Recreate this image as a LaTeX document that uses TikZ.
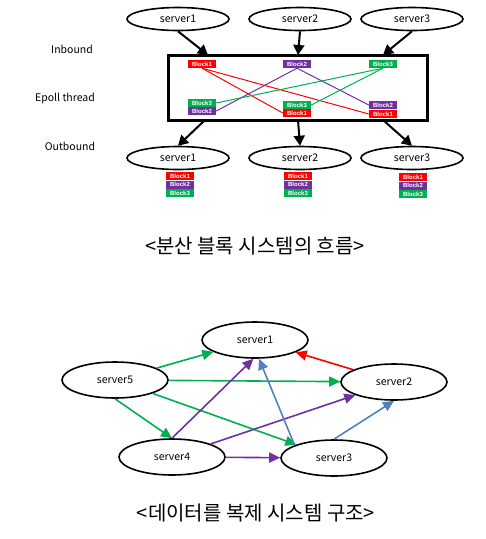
\documentclass[tikz,border=0pt]{standalone}
\usepackage{fontspec}
\setmainfont{Noto Sans CJK KR}
\newfontfamily\blockfont{Liberation Sans}
\usetikzlibrary{shapes.geometric}
\usetikzlibrary{arrows.meta}
\definecolor{bred}{HTML}{FF0000}
\definecolor{bpurple}{HTML}{7030A0}
\definecolor{bgreen}{HTML}{00B050}
\definecolor{bblue}{HTML}{4F81BD}
\tikzset{
  srv/.style={ellipse,draw=black,line width=1.6pt,inner sep=0pt,
    minimum width=102pt,minimum height=23pt,font=\fontsize{10.5}{12}\selectfont},
  srvb/.style={srv,minimum width=106pt,minimum height=36pt},
  blk/.style={fill=#1,text=white,inner sep=0pt,minimum width=28pt,minimum height=8pt,
    font=\blockfont\bfseries\fontsize{6}{6}\selectfont},
  lbl/.style={font=\fontsize{10.5}{12}\selectfont},
  caption/.style={font=\fontsize{20}{22}\selectfont},
  flow/.style={line width=2pt,-{Triangle[length=10pt,width=11pt]}},
  rep/.style={line width=1.6pt,draw=#1,-{Triangle[length=11pt,width=10pt,fill=#1]}},
}
\begin{document}
\begin{tikzpicture}[x=1pt,y=-1pt]
\useasboundingbox (0,0) rectangle (486,539);
%% distributed block flow
\path (178,19) node(in1)[srv]{server1}
(300,19) node(in2)[srv]{server2}
(412,19) node(in3)[srv]{server3}
(72,49) node(inb)[lbl]{Inbound}
(65,99) node(ept)[lbl]{Epoll thread}
(70,146) node(outb)[lbl]{Outbound}
(178,158) node(out1)[srv]{server1}
(300,158) node(out2)[srv]{server2}
(412,158) node(out3)[srv]{server3};
\draw[line width=3pt] (168,55) rectangle (427,120);
\path (202,64) node(t1)[blk=bred]{Block1}
(297,64) node(t2)[blk=bpurple]{Block2}
(383,64) node(t3)[blk=bgreen]{Block3}
(202,103) node(l3)[blk=bgreen]{Block3}
(202,111) node(l2)[blk=bpurple]{Block2}
(297,105) node(m3)[blk=bgreen]{Block3}
(297,113) node(m1)[blk=bred]{Block1}
(383,105) node(r2)[blk=bpurple]{Block2}
(383,114) node(r1)[blk=bred]{Block1};
\draw[bred,line width=1pt](t1.south)--(m1.west);
\draw[bred,line width=1pt](t1.south)--(r1.west);
\draw[bpurple,line width=1pt](t2.south)--(l2.east);
\draw[bpurple,line width=1pt](t2.south)--(r2.west);
\draw[bgreen,line width=1pt](t3.south)--(l3.east);
\draw[bgreen,line width=1pt](t3.south)--(m3.east);
\coordinate (e1) at (208,55);
\coordinate (e2) at (298,55);
\coordinate (e3) at (383,55);
\coordinate (x1) at (205,120);
\coordinate (x2) at (298,120);
\coordinate (x3) at (383,120);
\draw[flow](in1.south)--(e1);
\draw[flow](in2.south)--(e2);
\draw[flow](in3.south)--(e3);
\draw[flow](x1)--(out1.north);
\draw[flow](x2)--(out2.north);
\draw[flow](x3)--(out3.north);
\path (180,176) node(o1a)[blk=bred]{Block1}
(180,184.5) node(o1b)[blk=bpurple]{Block2}
(180,193) node(o1c)[blk=bgreen]{Block3}
(298,176) node(o2a)[blk=bred]{Block1}
(298,184.5) node(o2b)[blk=bpurple]{Block2}
(298,193) node(o2c)[blk=bgreen]{Block3}
(413,177) node(o3a)[blk=bred]{Block1}
(413,185.5) node(o3b)[blk=bpurple]{Block2}
(413,194) node(o3c)[blk=bgreen]{Block3};
\path (255,246) node(cap1)[caption]{<분산 블록 시스템의 흐름>};
%% replication structure
\path (255,340) node(s1)[srvb]{server1}
(115,380) node(s5)[srvb]{server5}
(394,382) node(s2)[srvb]{server2}
(172,457) node(s4)[srvb]{server4}
(334,458) node(s3)[srvb]{server3};
\draw[rep=bgreen](s5)--(s1);
\draw[rep=bgreen](s5)--(s2);
\draw[rep=bgreen](s5.south)--(s4.north);
\draw[rep=bgreen](s5)--(s3);
\draw[rep=bpurple](s4.north)--(s1.265);
\draw[rep=bpurple](s4)--(s2);
\draw[rep=bpurple](s4)--(s3);
\draw[rep=bblue](s3.162)--(s1.282);
\draw[rep=bblue](s3.north)--(s2.south);
\draw[rep=bred](s2)--(s1);
\path (256,513) node(cap2)[caption]{<데이터를 복제 시스템 구조>};
\end{tikzpicture}
\end{document}
